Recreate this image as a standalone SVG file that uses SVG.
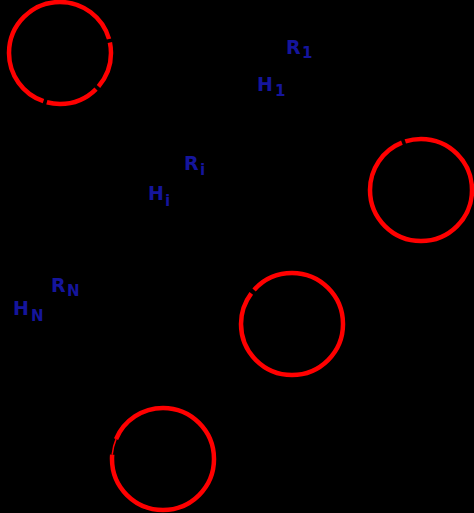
<svg xmlns="http://www.w3.org/2000/svg" width="474" height="513" viewBox="0 0 474 513">
<style>
.ring{fill:none;stroke:#ff0000;stroke-width:4.5}
.thin{fill:none;stroke:#ff0000;stroke-width:1.5}
.lbl{font-family:"DejaVu Sans","Liberation Sans",sans-serif;font-weight:bold;fill:#15159c}
.big{font-size:19px}
.sub{font-size:15px}
</style>
<rect x="0" y="0" width="474" height="513" fill="#000000"/>
<g id="ring1"><circle class="ring" cx="60" cy="53" r="51" pathLength="360" stroke-dasharray="41 4 60 4 235 4 12 0"/></g>
<g id="ring2"><circle class="ring" cx="421" cy="190" r="51" pathLength="360" stroke-dasharray="248 4 108 0"/></g>
<g id="ring3"><circle class="ring" cx="292" cy="324" r="51" pathLength="360" stroke-dasharray="217 5 138 0"/></g>
<g id="ring4"><circle class="ring" cx="163" cy="459" r="51" pathLength="360" stroke-dasharray="185 18 157 0"/>
<path class="thin" d="M112.2,454.6 A51,51 0 0 1 116.1,439.1"/></g>
<g id="labels">
<g id="R1"><text class="lbl big" x="286" y="54">R</text><text class="lbl sub" x="302" y="58">1</text></g>
<g id="H1"><text class="lbl big" x="257" y="91">H</text><text class="lbl sub" x="275" y="96">1</text></g>
<g id="Ri"><text class="lbl big" x="184" y="170">R</text><text class="lbl sub" x="200" y="175">i</text></g>
<g id="Hi"><text class="lbl big" x="148" y="200">H</text><text class="lbl sub" x="165" y="206">i</text></g>
<g id="RN"><text class="lbl big" x="51" y="292">R</text><text class="lbl sub" x="67" y="296">N</text></g>
<g id="HN"><text class="lbl big" x="13" y="315">H</text><text class="lbl sub" x="31" y="321">N</text></g>
</g>
</svg>
